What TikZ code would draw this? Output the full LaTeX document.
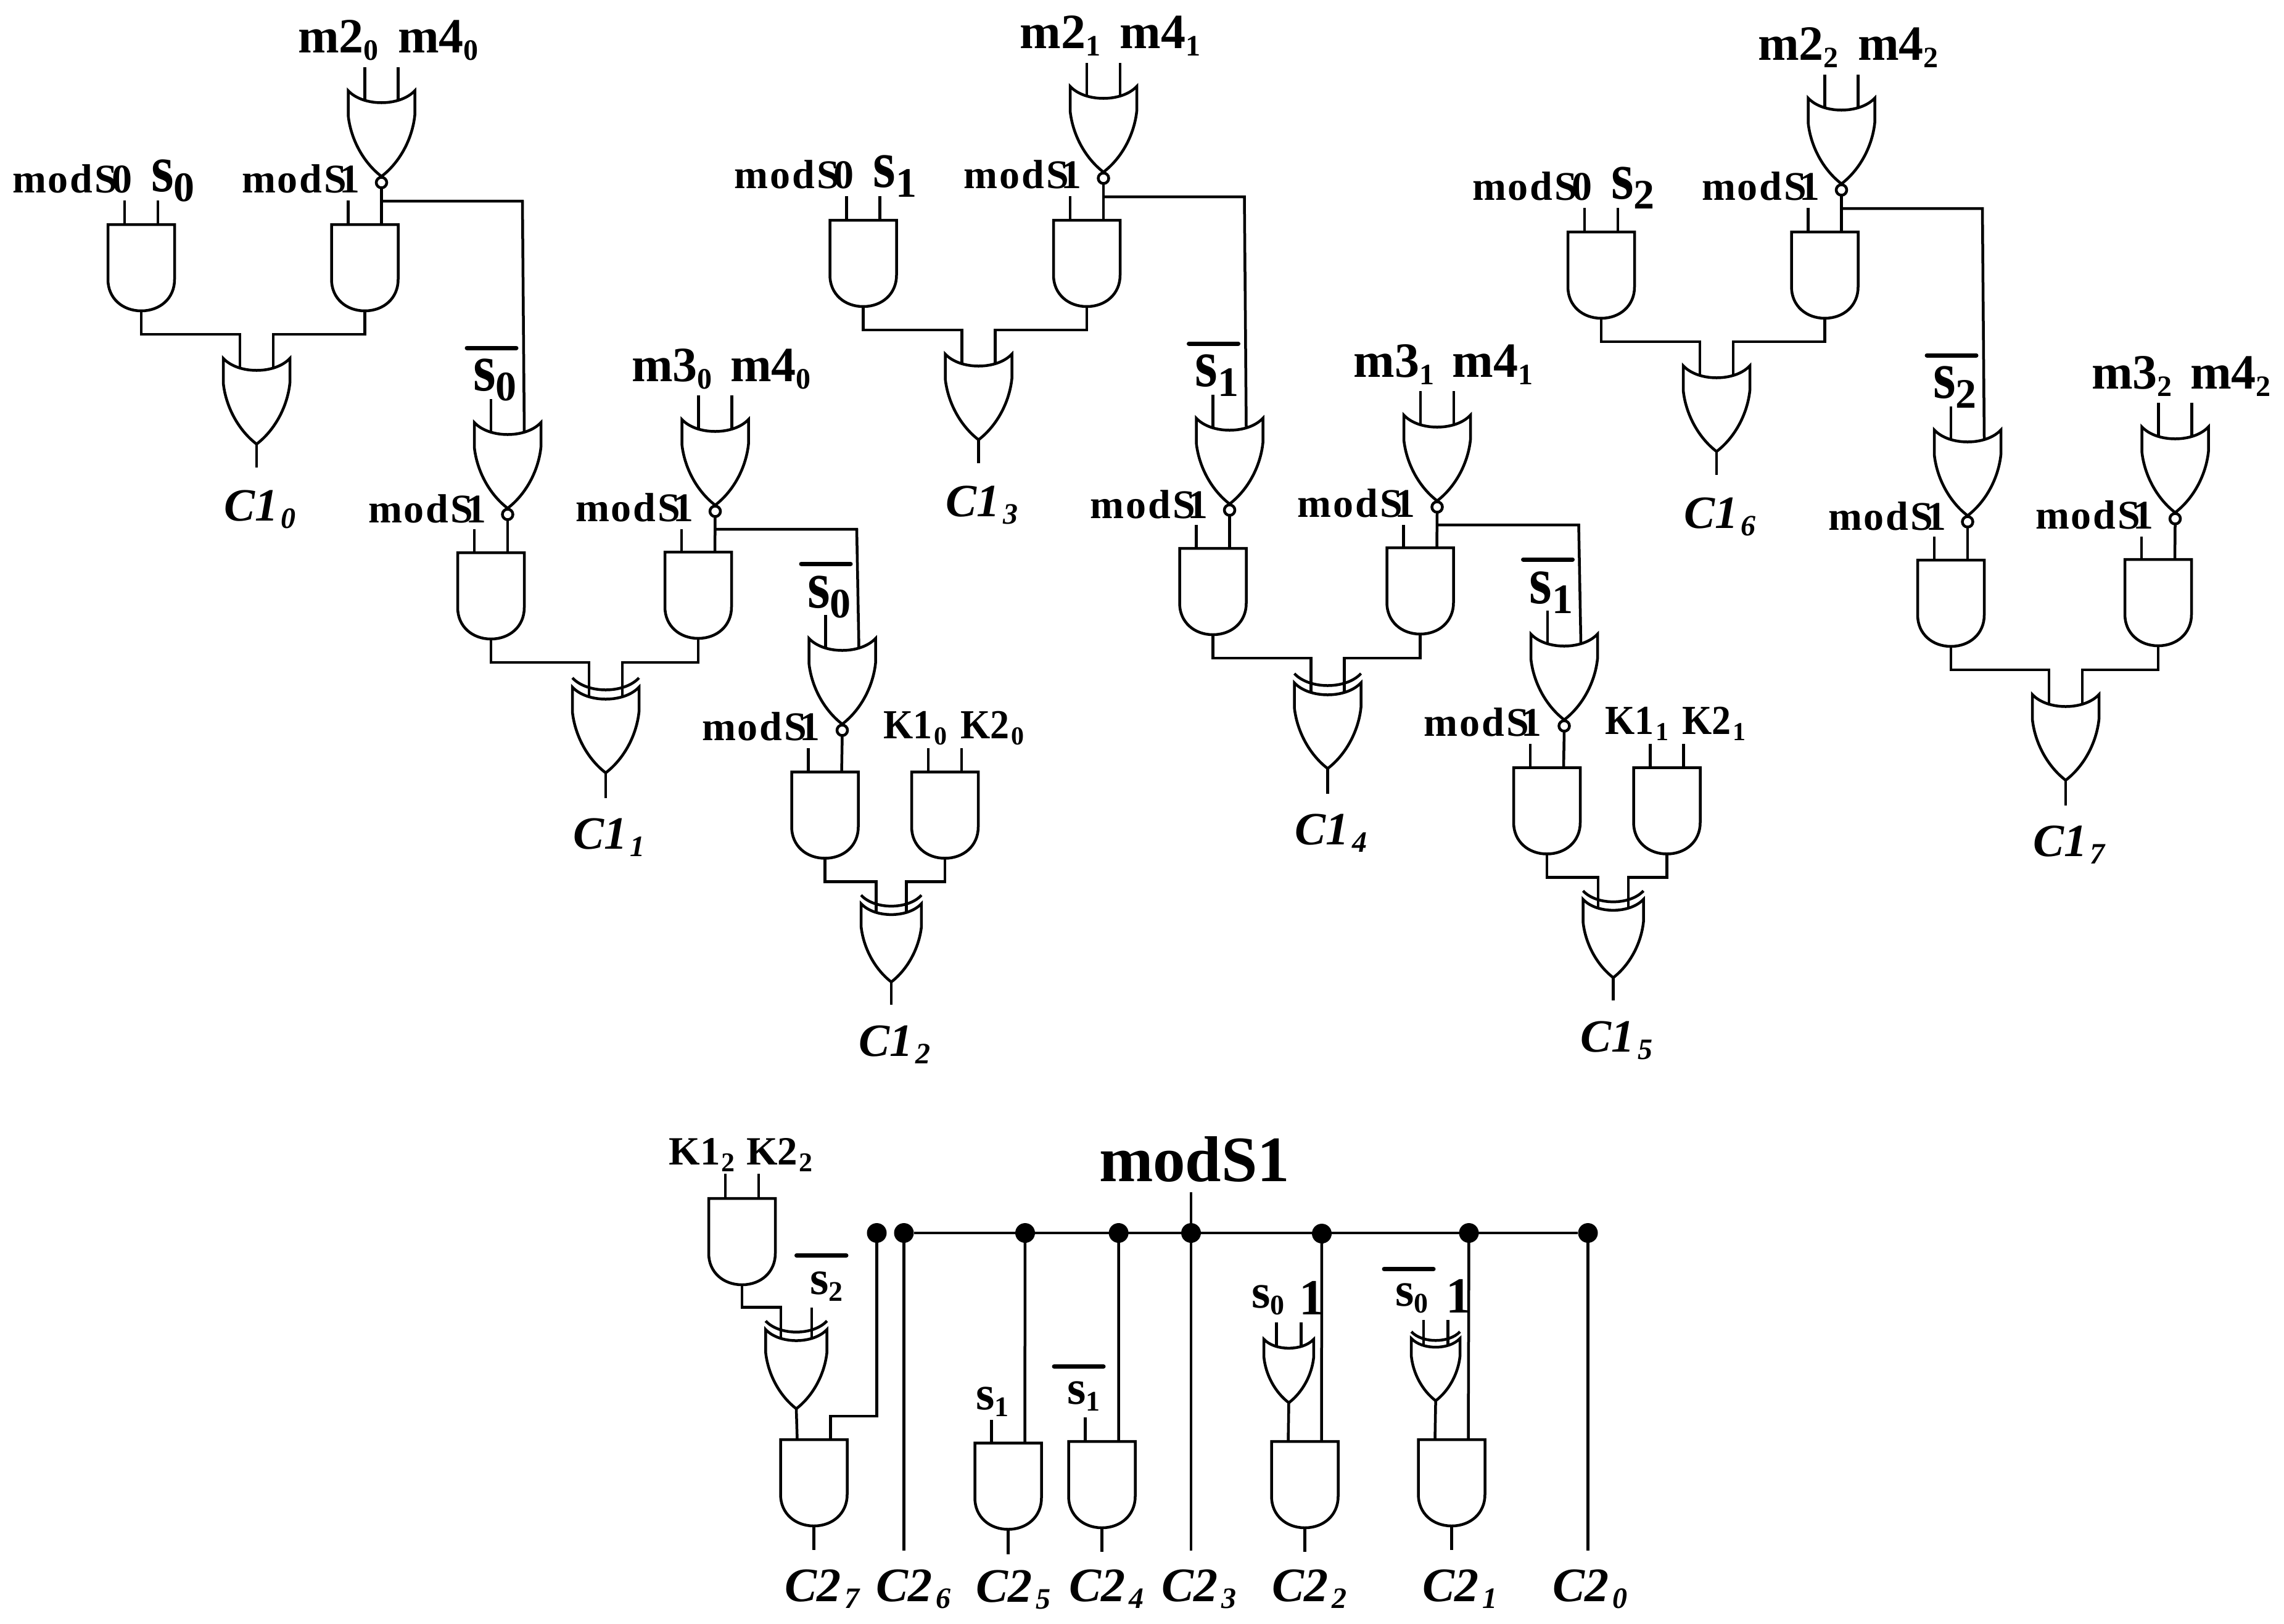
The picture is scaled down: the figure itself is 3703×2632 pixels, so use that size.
\documentclass[tikz,border=0pt]{standalone}
\usepackage{fontspec}
\usepackage{graphicx}
\setmainfont{Liberation Serif}
\newcommand\fz[1]{\fontsize{#1}{#1}\selectfont}
% label contents
\newcommand\modS[2]{{\fz{66}m\kern3pt o\kern3pt d\kern3pt S\kern#2pt #1}}
\newcommand\msub[2]{{\fz{80}#1}\raisebox{-12pt}{\fz{48}#2}}
\newcommand\ksub[2]{\scalebox{1}[1.08]{\fz{62}#1}\kern3pt\raisebox{-10pt}{\fz{42}#2}}
\newcommand\kbot[2]{{\fz{65}#1}\kern2pt\raisebox{-11pt}{\fz{44}#2}}
\newcommand\ssub[1]{\scalebox{.96}[1.12]{\fz{98}s}\raisebox{-16pt}{\fz{68}#1}}
\newcommand\sbot[1]{{\fz{78}s}\raisebox{-11pt}{\fz{46}#1}}
\newcommand\Cone[2]{{\itshape\fz{75}#1}\kern5pt\raisebox{-12pt}{\itshape\fz{48}#2}}
\newcommand\Ctwo[2]{{\itshape\fz{78}#1}\kern6pt\raisebox{-11pt}{\itshape\fz{48}#2}}
\newcommand\lab[4]{\node[lab] (#1) at (#2,#3) {#4};}
\newcommand\stub[2]{\draw[wire] (#1) -- ++(0,-#2) coordinate (#1-t);}
\newcommand\outw[2]{\draw[wire] (#1) -- ++(0,#2) coordinate (#1-e);}
\newcommand\orpath{\draw[gate] (-54,0) .. controls (-30,26) and (30,26) .. (54,0) -- (54,40)
      .. controls (50,78) and (30,116) .. (0,139) .. controls (-30,116) and (-50,78) .. (-54,40) -- cycle;}
\tikzset{
  lab/.style={anchor=base west,inner sep=0pt,outer sep=0pt,font=\bfseries},
  wire/.style={line width=4.5pt},
  gate/.style={line width=4.5pt,line join=miter},
  ovl/.style={line width=7pt,line cap=round},
  dot/.style={circle,fill=black,draw=none,minimum size=32pt,inner sep=0pt},
  pics/andg/.style={code={
    \draw[gate] (-54,0) -- (54,0) -- (54,89) .. controls (54,120) and (30,140) .. (0,140)
      .. controls (-30,140) and (-54,120) .. (-54,89) -- cycle;
    \coordinate (-a) at (-27,0); \coordinate (-b) at (27,0); \coordinate (-o) at (0,140);
  }},
  pics/org/.style={code={
    \orpath
    \coordinate (-a) at (-27,15); \coordinate (-b) at (27,15); \coordinate (-o) at (0,139);
  }},
  pics/norg/.style={code={
    \orpath
    \draw[gate,fill=white] (0,149) circle[radius=8.5];
    \coordinate (-a) at (-27,15); \coordinate (-b) at (27,15); \coordinate (-o) at (0,158);
  }},
  pics/xorg/.style={code={
    \orpath
    \draw[gate] (-54,-15) .. controls (-30,11) and (30,11) .. (54,-15);
    \coordinate (-a) at (-27,15); \coordinate (-b) at (27,15); \coordinate (-o) at (0,139);
  }},
}
% #1 prefix, #2 dx, #3 dy, #4 bit, #5 C1 index
\newcommand\blockA[5]{%
\begin{scope}[shift={(#2,#3)}]
  \pic (#1g) at (618.5,147) {norg};
  \pic (#1a) at (229,364) {andg};
  \pic (#1b) at (591.5,364) {andg};
  \pic (#1o) at (416,581) {org};
  \stub{#1g-a}{53} \stub{#1g-b}{53}
  \stub{#1a-a}{39} \stub{#1a-b}{39} \stub{#1b-a}{39}
  \draw[wire] (#1g-o) -- (#1b-b);
  \draw[wire] (#1a-o) -- ++(0,38) -| (#1o-a);
  \draw[wire] (#1b-o) -- ++(0,38) -| (#1o-b);
  \outw{#1o-o}{38}
  \lab{#1l1}{483}{85}{\msub{m2}{#4}}
  \lab{#1l2}{645}{85}{\msub{m4}{#4}}
  \lab{#1l3}{20}{312}{\modS{0}{-9}}
  \lab{#1l4}{245}{310}{\ssub{#4}}
  \lab{#1l5}{392}{312}{\modS{1}{-12}}
  \lab{#1l6}{363}{844}{\Cone{C1}{#5}}
\end{scope}}
% #1 prefix, #2 dx, #3 dy, #4 bit, #5 C1 index, #6 output gate pic
\newcommand\blockB[6]{%
\begin{scope}[shift={(#2,#3)}]
  \pic (#1h) at (823,685) {norg};
  \pic (#1n) at (1159.5,680) {norg};
  \pic (#1c) at (796,896) {andg};
  \pic (#1d) at (1132,895) {andg};
  \pic (#1x) at (982,1114) {#6};
  \coordinate (#1j) at (618.5,326);
  \coordinate (#1k) at (847,326);
  \draw[wire] (#1j) -- (#1k) -- (#1h-b);
  \stub{#1h-a}{53} \stub{#1n-a}{54} \stub{#1n-b}{54}
  \stub{#1c-a}{38} \stub{#1d-a}{37}
  \draw[wire] (#1h-o) -- (#1c-b);
  \draw[wire] (#1n-o) -- (#1d-b);
  \draw[wire] (#1c-o) -- ++(0,38) -| (#1x-a);
  \draw[wire] (#1d-o) -- ++(0,39) -| (#1x-b);
  \outw{#1x-o}{41}
  \coordinate (#1bar1) at (757,564); \coordinate (#1bar2) at (837,564);
  \draw[ovl] (#1bar1) -- (#1bar2);
  \lab{#1m1}{767}{633}{\ssub{#4}}
  \lab{#1m2}{597}{847}{\modS{1}{-12}}
  \lab{#1m3}{1024}{618}{\msub{m3}{#4}}
  \lab{#1m4}{1184}{618}{\msub{m4}{#4}}
  \lab{#1m5}{933}{845}{\modS{1}{-12}}
  \lab{#1m6}{929}{1376}{\Cone{C1}{#5}}
\end{scope}}
% #1 prefix, #2 dx, #3 dy, #4 bit, #5 C1 index
\newcommand\blockC[5]{%
\begin{scope}[shift={(#2,#3)}]
  \pic (#1p) at (1365.5,1035) {norg};
  \pic (#1q) at (1337.5,1251.5) {andg};
  \pic (#1r) at (1532,1251.5) {andg};
  \pic[xscale=.907,yscale=.914] (#1y) at (1445,1465) {xorg};
  \coordinate (#1u) at (1159.5,858);
  \coordinate (#1v) at (1389,858);
  \draw[wire] (#1u) -- (#1v) -- (#1p-b);
  \stub{#1p-a}{53} \stub{#1q-a}{39} \stub{#1r-a}{39} \stub{#1r-b}{39}
  \draw[wire] (#1p-o) -- (#1q-b);
  \draw[wire] (#1q-o) -- ++(0,38) -| (#1y-a);
  \draw[wire] (#1r-o) -- ++(0,38) -| (#1y-b);
  \outw{#1y-o}{37}
  \coordinate (#1bar3) at (1299,914); \coordinate (#1bar4) at (1379,914);
  \draw[ovl] (#1bar3) -- (#1bar4);
  \lab{#1n1}{1309}{985}{\ssub{#4}}
  \lab{#1n2}{1138}{1200}{\modS{1}{-12}}
  \lab{#1n3}{1432}{1197}{\ksub{K1}{#4}}
  \lab{#1n4}{1557}{1197}{\ksub{K2}{#4}}
  \lab{#1n5}{1392}{1712}{\Cone{C1}{#5}}
\end{scope}}
\begin{document}
\begin{tikzpicture}[x=1pt,y=-1pt]
\useasboundingbox (0,0) rectangle (3703,2632);
\blockA{A}{0}{0}{0}{0}
\blockB{A}{0}{0}{0}{1}{xorg}
\blockC{A}{0}{0}{0}{2}
\blockA{B}{1170.5}{-7}{1}{3}
\blockB{B}{1170.5}{-7}{1}{4}{xorg}
\blockC{B}{1170.5}{-7}{1}{5}
\blockA{D}{2367}{12}{2}{6}
\blockB{D}{2367}{12}{2}{7}{org}
% lower block
\node[dot] (d7) at (1421.5,1999) {};
\node[dot] (d6) at (1465.5,1999) {};
\node[dot] (d5) at (1662,1999) {};
\node[dot] (d4) at (1813.6,1999) {};
\node[dot] (d3) at (1931,1999) {};
\node[dot] (d2) at (2143,2000) {};
\node[dot] (d1) at (2381.5,1999) {};
\node[dot] (d0) at (2574.5,1999) {};
\draw[wire] (d6) -- (d0);
\coordinate (t3) at (1931,1933);
\coordinate (e6) at (1465.5,2514);
\coordinate (e3) at (1931,2514);
\coordinate (e0) at (2574.5,2514);
\draw[wire] (t3) -- (d3) -- (e3);
\draw[wire] (d6) -- (e6);
\draw[wire] (d0) -- (e0);
\pic (k) at (1203,1943) {andg};
\pic[xscale=.92,yscale=.924] (x7) at (1291,2155.5) {xorg};
\pic (a7) at (1319.5,2334) {andg};
\pic (a5) at (1634.5,2339.5) {andg};
\pic (a4) at (1786.5,2337) {andg};
\pic (a2) at (2115.5,2337) {andg};
\pic[xscale=.746,yscale=.74] (o2) at (2089.5,2171.4) {org};
\pic (a1) at (2353.5,2334) {andg};
\pic[xscale=.73,yscale=.727] (x1) at (2327.6,2170) {xorg};
\stub{k-a}{40} \stub{k-b}{40} \stub{x7-b}{49}
\stub{a5-a}{38} \stub{a4-a}{39}
\stub{o2-a}{38.5} \stub{o2-b}{38.5} \stub{x1-a}{41} \stub{x1-b}{41}
\draw[wire] (k-o) -- ++(0,36.5) -| (x7-a);
\draw[wire] (x7-o) -- (a7-a);
\draw[wire] (a7-b) -- ++(0,-38) -| (d7);
\draw[wire] (d5) -- (a5-b);
\draw[wire] (d4) -- (a4-b);
\draw[wire] (d2) -- (a2-b);
\draw[wire] (d1) -- (a1-b);
\draw[wire] (o2-o) -- (a2-a);
\draw[wire] (x1-o) -- (a1-a);
\outw{a7-o}{39} \outw{a5-o}{40} \outw{a4-o}{39} \outw{a2-o}{39} \outw{a1-o}{39}
\coordinate (b1) at (1291.5,2035.5); \coordinate (b2) at (1372,2035.5);
\coordinate (b3) at (1709,2215.5); \coordinate (b4) at (1789,2215.5);
\coordinate (b5) at (2244,2057.5); \coordinate (b6) at (2324,2057.5);
\draw[ovl] (b1) -- (b2);
\draw[ovl] (b3) -- (b4);
\draw[ovl] (b5) -- (b6);
\lab{t1}{1782}{1915}{\fz{105}modS1}
\lab{t2}{1084.5}{1888.5}{\kbot{K1}{2}}
\lab{t3l}{1210}{1888.5}{\kbot{K2}{2}}
\lab{t4}{1313.5}{2098}{\sbot{2}}
\lab{t5}{1582}{2285.5}{\sbot{1}}
\lab{t6}{1730}{2276}{\sbot{1}}
\lab{t7}{2029}{2120}{\sbot{0}}
\lab{t8}{2106}{2131.5}{\fz{82}1}
\lab{t9}{2262}{2117}{\sbot{0}}
\lab{t10}{2344.5}{2128}{\fz{82}1}
\lab{c7}{1272}{2596}{\Ctwo{C2}{7}}
\lab{c6}{1420}{2596}{\Ctwo{C2}{6}}
\lab{c5}{1582}{2597}{\Ctwo{C2}{5}}
\lab{c4}{1733}{2596}{\Ctwo{C2}{4}}
\lab{c3}{1883.5}{2596}{\Ctwo{C2}{3}}
\lab{c2}{2062}{2596}{\Ctwo{C2}{2}}
\lab{c1}{2306}{2596}{\Ctwo{C2}{1}}
\lab{c0}{2517.5}{2596}{\Ctwo{C2}{0}}
\end{tikzpicture}
\end{document}
